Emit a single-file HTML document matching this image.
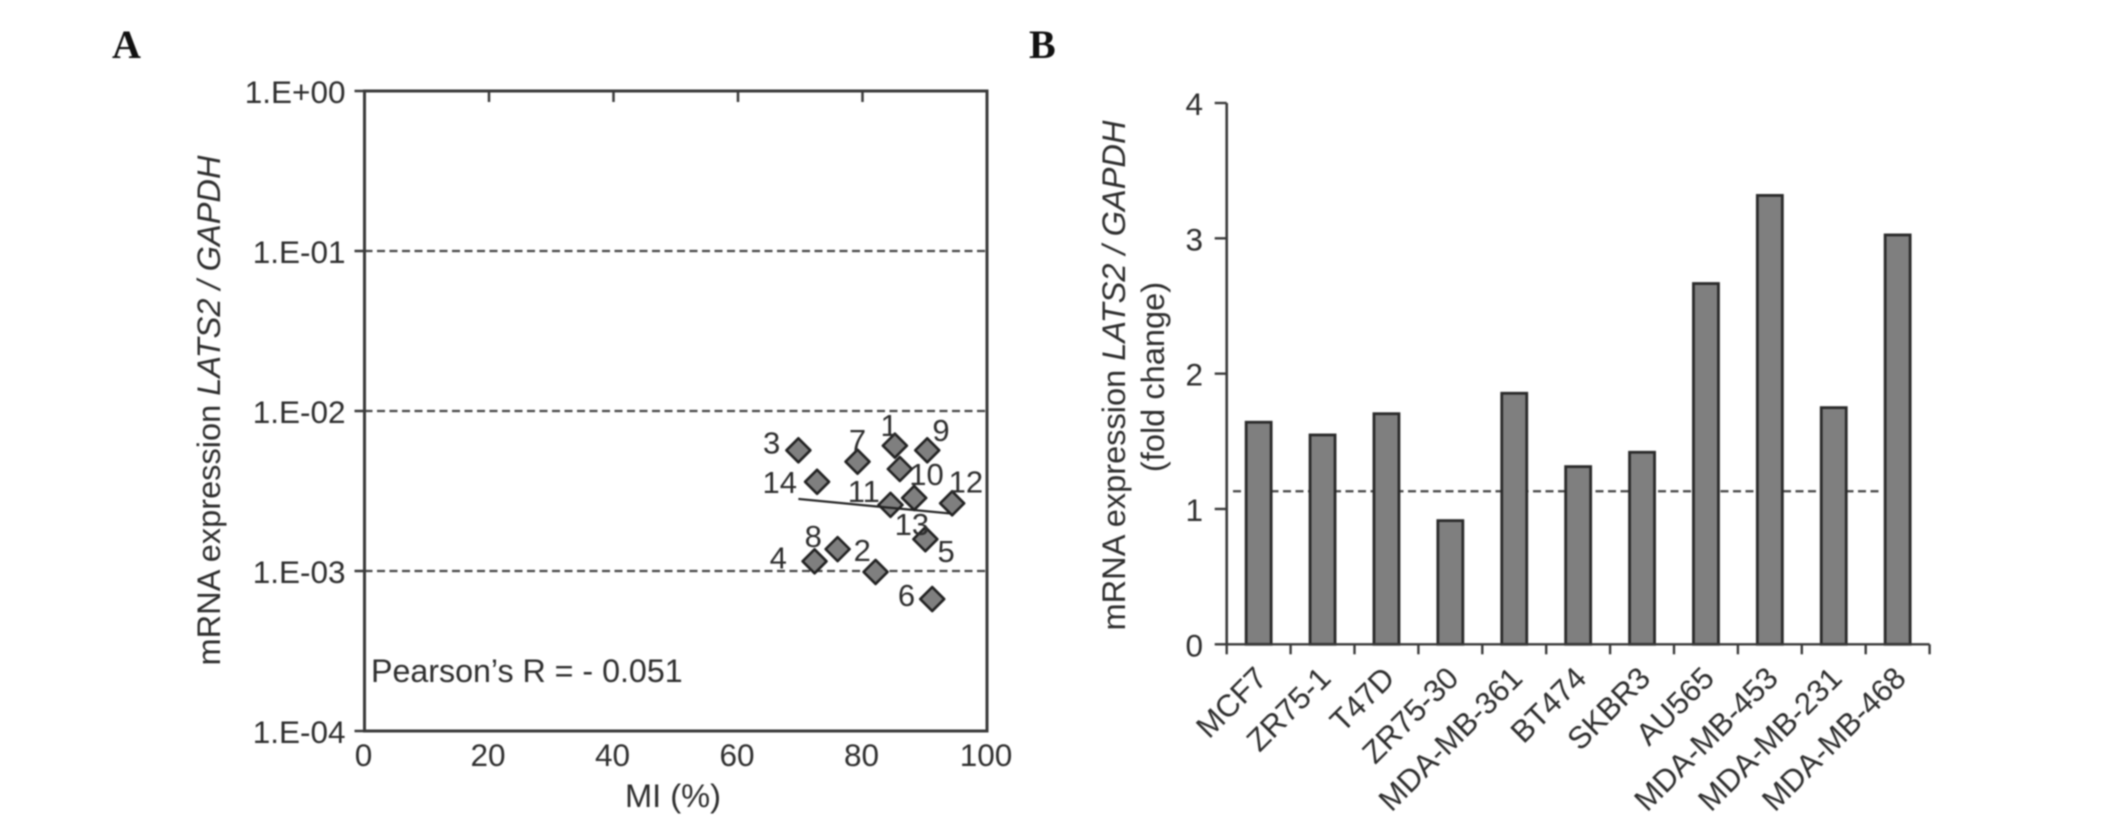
<!DOCTYPE html>
<html lang="en">
<head>
<meta charset="utf-8">
<title>LATS2 mRNA expression</title>
<style>
html,body{margin:0;padding:0;background:#fff;width:2126px;height:830px;overflow:hidden}
svg{display:block;filter:blur(.7px)}
text{font-family:"Liberation Sans",Arial,sans-serif;fill:#2e2e2e;font-size:32.6px}
.panel{font-family:"Liberation Serif",serif;font-weight:bold;font-size:40px;fill:#111}
</style>
</head>
<body>
<svg id="figure" xmlns="http://www.w3.org/2000/svg" width="2126" height="830" viewBox="0 0 2126 830">
  <rect width="2126" height="830" fill="#fff"/>
  <text class="panel" x="112" y="58">A</text>
  <text class="panel" x="1029" y="58">B</text>
  <g id="chartA">
    <text transform="translate(220,410.5) rotate(-90)" text-anchor="middle">mRNA expression <tspan font-style="italic">LATS2 / GAPDH</tspan></text>
    <text x="673" y="807" text-anchor="middle">MI (%)</text>
    <text x="371" y="682" font-size="32.2" style="font-size:32.2px">Pearson’s R = - 0.051</text>
  </g>
  <g id="chartB">
    <text transform="translate(1125,375.5) rotate(-90)" text-anchor="middle">mRNA expression <tspan font-style="italic">LATS2 / GAPDH</tspan></text>
    <text transform="translate(1164,377) rotate(-90)" text-anchor="middle">(fold change)</text>
  </g>
</svg>
<script>
// Panel A data
const pointIds = ["1","2","3","4","5","6","7","8","9","10","11","12","13","14"];
const miPercent = [85.2,82.1,69.7,72.3,90.1,91.2,79.2,76.0,90.4,86.0,84.5,94.4,88.3,72.7];
const lats2Expression = [0.00607,0.000986,0.00568,0.00115,0.00158,0.000668,0.00482,0.00137,0.00568,0.00434,0.00259,0.00265,0.00286,0.00361];
const trendMi = [69.7,94.0];
const trendExpression = [0.00282,0.00229];
const scatterXTicks = [0,20,40,60,80,100];
const scatterYTicks = [1,0.1,0.01,0.001,0.0001];
const scatterYTickLabels = ["1.E+00","1.E-01","1.E-02","1.E-03","1.E-04"];
const dashedLevels = [0.1,0.01,0.001];

// Panel B data
const cellLines = ["MCF7","ZR75-1","T47D","ZR75-30","MDA-MB-361","BT474","SKBR3","AU565","MDA-MB-453","MDA-MB-231","MDA-MB-468"];
const foldChange = [1.641,1.547,1.704,0.914,1.855,1.313,1.419,2.666,3.317,1.749,3.025];
const barYTicks = [0,1,2,3,4];
const referenceLevel = [1.131];

const NS = "http://www.w3.org/2000/svg";
const ink = "#3a3a3a";
const chartA = document.getElementById("chartA");
const chartB = document.getElementById("chartB");

function make(parent, tag, attrs, content) {
  const el = document.createElementNS(NS, tag);
  for (const k in attrs) el.setAttribute(k, attrs[k]);
  if (content !== undefined) {
    el.textContent = content;
    if (attrs["font-size"]) el.style.fontSize = attrs["font-size"] + "px";
  }
  parent.appendChild(el);
  return el;
}

// Axis functions, panel A
const A = {left:364.5, right:987, top:91, bottom:731};
function xA(v) { return A.left + (v / 100) * (A.right - A.left); }
function yA(v) { return A.top + (0 - Math.log10(v)) / 4 * (A.bottom - A.top); }

// Axis functions, panel B
const B = {left:1226.7, step:63.9, bottom:644.3, top:103, max:4};
function xB(i) { return B.left + B.step * (i + 0.5); }
function xBEdge(i) { return B.left + B.step * i; }
function yB(v) { return B.bottom - (v / B.max) * (B.bottom - B.top); }

// Panel A: dashed guides
dashedLevels.forEach(function (v) {
  const g = make(chartA, "line", {x1:A.left, x2:A.right, y1:yA(v), y2:yA(v), stroke:"#444", "stroke-width":2.2, "stroke-dasharray":"8 4.5"});
  
  
});

// Panel A: plot frame
const frame = make(chartA, "rect", {x:A.left, y:A.top, width:A.right-A.left, height:A.bottom-A.top, fill:"none", stroke:ink, "stroke-width":3});



// Panel A: y ticks and labels
scatterYTicks.forEach(function (v, i) {
  const t = make(chartA, "line", {x1:A.left-10, x2:A.left, y1:yA(v), y2:yA(v), stroke:ink, "stroke-width":2.5});
  
  
  const l = make(chartA, "text", {x:345.5, y:yA(v)+12, "text-anchor":"end", "font-size":"31.5"}, scatterYTickLabels[i]);
  
  
});

// Panel A: x ticks and labels
scatterXTicks.forEach(function (v) {
  if (v > 0 && v < 100) {
    const t = make(chartA, "line", {x1:xA(v), x2:xA(v), y1:A.top, y2:A.top+11, stroke:ink, "stroke-width":2.5});
    
    
  }
  const l = make(chartA, "text", {x:xA(v)-1, y:766, "text-anchor":"middle", "font-size":"31.5"}, String(v));
  
  
});

// Panel A: points
miPercent.forEach(function (mi, i) {
  const cx = xA(mi), cy = yA(lats2Expression[i]), r = 12;
  const d = make(chartA, "polygon", {points:[cx+","+(cy-r),(cx+r)+","+cy,cx+","+(cy+r),(cx-r)+","+cy].join(" "), fill:"#7f7f7f", stroke:"#222", "stroke-width":2.6, "stroke-linejoin":"round"});
  
  
});

// Panel A: trend line
const trend = make(chartA, "line", {x1:xA(trendMi[0]), y1:yA(trendExpression[0]), x2:xA(trendMi[1]), y2:yA(trendExpression[1]), stroke:"#222", "stroke-width":2.2});



// Panel A: point number labels (offset from each point)
const labelShiftX = [-5.7,-13.3,-26.7,-36.3,20.7,-25.7,0,-24.3,13.7,26.7,-26.7,13.7,-2.3,-37.3];
const labelShiftY = [-20.7,-22,-8,-3.7,12,-4,-21.7,-13,-20.3,5,-14,-21.7,26,0];
pointIds.forEach(function (id, i) {
  const l = make(chartA, "text", {x:xA(miPercent[i])+labelShiftX[i], y:yA(lats2Expression[i])+labelShiftY[i]+11, "text-anchor":"middle", "font-size":"31"}, id);
  
  
});

// Panel B: reference dashed line
referenceLevel.forEach(function (v) {
  const r = make(chartB, "line", {x1:1233, x2:1883, y1:yB(v), y2:yB(v), stroke:"#444", "stroke-width":2.2, "stroke-dasharray":"8 4.5"});
  
  
});

// Panel B: bars
foldChange.forEach(function (v, i) {
  const w = 25;
  const b = make(chartB, "rect", {x:xB(i)-w/2, y:yB(v), width:w, height:B.bottom-yB(v), fill:"#7f7f7f", stroke:"#2a2a2a", "stroke-width":2.8});
  
  
});

// Panel B: y axis
const yAxisB = make(chartB, "line", {x1:B.left, x2:B.left, y1:B.top, y2:B.bottom, stroke:ink, "stroke-width":2.6});


barYTicks.forEach(function (v) {
  const t = make(chartB, "line", {x1:B.left-12, x2:B.left, y1:yB(v), y2:yB(v), stroke:ink, "stroke-width":2.4});
  
  
  const l = make(chartB, "text", {x:1203, y:yB(v)+12, "text-anchor":"end", "font-size":"31.5"}, String(v));
  
  
});

// Panel B: x axis
const xAxisB = make(chartB, "line", {x1:B.left, x2:xBEdge(cellLines.length), y1:B.bottom, y2:B.bottom, stroke:ink, "stroke-width":2.4});


cellLines.forEach(function (name, i) {
  const t = make(chartB, "line", {x1:xBEdge(i), x2:xBEdge(i), y1:B.bottom, y2:B.bottom+10, stroke:ink, "stroke-width":2.4});
  
  
  const l = make(chartB, "text", {transform:"translate("+(xB(i)+10)+",680) rotate(-45)", "text-anchor":"end", "font-size":"31"}, name);
  
  
});
const lastTick = make(chartB, "line", {x1:xBEdge(cellLines.length), x2:xBEdge(cellLines.length), y1:B.bottom, y2:B.bottom+10, stroke:ink, "stroke-width":2.4});


</script>
</body>
</html>
